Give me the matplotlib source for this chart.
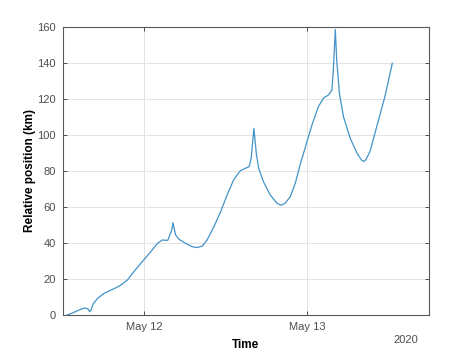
import matplotlib
matplotlib.use('Agg')
import matplotlib.pyplot as plt
import matplotlib.dates as mdates
import pandas as pd
import numpy as np

# hours relative to 12 May 2020 00:00, position in km
hours = [-11.3, -10.3, -9.55, -8.8, -8.3, -8.0, -7.8, -7.5, -6.85, -5.9, -4.4,
         -3.4, -2.45, -1.5, -0.25, 1.0, 2.0, 2.7, 3.5, 4.1, 4.27, 4.66, 5.15,
         6.1, 7.1, 7.85, 8.6, 9.3, 10.3, 11.3, 12.25, 13.2, 14.2, 14.95, 15.5,
         15.8, 16.2, 16.55, 16.9, 17.6, 18.6, 19.6, 20.2, 20.8, 21.55, 22.3,
         23.0, 23.8, 24.75, 25.7, 26.45, 27.2, 27.7, 27.9, 28.2, 28.4, 28.8,
         29.4, 30.4, 31.4, 32.1, 32.4, 32.7, 33.3, 34.3, 35.5, 36.6]
position = [0.0, 1.5, 2.8, 3.9, 3.5, 1.8, 2.8, 6.1, 9.2, 12.0, 14.6,
            16.6, 19.4, 24.0, 29.6, 35.1, 39.8, 41.6, 41.4, 47.2, 51.2, 44.4, 42.0,
            39.8, 37.9, 37.4, 38.3, 41.6, 49.0, 57.3, 66.6, 74.9, 80.1, 81.4, 82.3,
            87.0, 103.6, 89.7, 81.4, 74.0, 66.6, 62.0, 60.9, 62.0, 65.6, 73.1,
            83.2, 93.4, 105.4, 115.6, 120.3, 122.1, 124.9, 136.0, 158.4, 141.5, 123.0,
            110.0, 98.0, 89.7, 85.8, 85.2, 86.2, 90.6, 104.5, 121.1, 139.7]

base = pd.Timestamp('2020-05-12')
t = base + pd.to_timedelta(hours, unit='h')

plt.rcParams['font.family'] = ['Liberation Sans', 'DejaVu Sans']

fig = plt.figure(figsize=(4.74, 3.55), dpi=100)
ax = fig.add_axes([0.132, 0.1127, 0.773, 0.8123])

ax.plot(t, position, color='#4393c9', linewidth=0.9)

ax.set_xlim(base - pd.Timedelta(hours=12), base + pd.Timedelta(hours=42))
ax.set_ylim(0, 160)
ax.set_yticks(np.arange(0, 161, 20))
ax.xaxis.set_major_locator(mdates.DayLocator())
ax.xaxis.set_major_formatter(mdates.DateFormatter('%b %d'))

ax.grid(True, color='#e3e3e3', linewidth=0.7)
ax.set_axisbelow(True)
ax.tick_params(direction='in', top=True, right=True, labelsize=8,
               colors='#4d4d4d', length=3, width=0.7, pad=5)
for s in ax.spines.values():
    s.set_color('#5a5a5a')
    s.set_linewidth(0.8)

ax.set_xlabel('Time', fontsize=8.5, fontweight='bold', labelpad=5)
ax.set_ylabel('Relative position (km)', fontsize=8.5, fontweight='bold', labelpad=1)
fig.text(0.882, 0.041, '2020', fontsize=8, color='#4d4d4d', ha='right', va='center')

fig.savefig('out.png', dpi=100)
